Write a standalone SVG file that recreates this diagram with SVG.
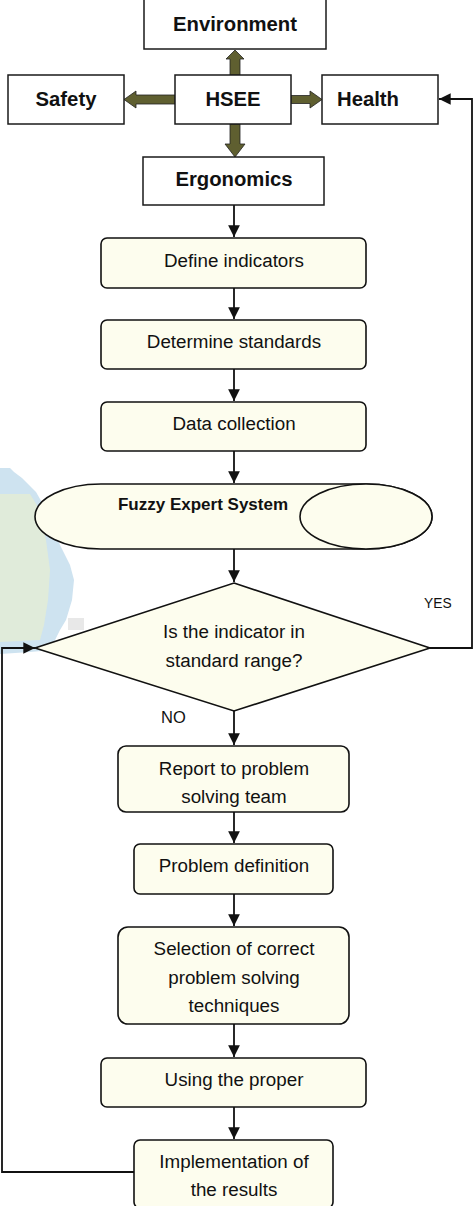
<svg xmlns="http://www.w3.org/2000/svg" width="474" height="1206" viewBox="0 0 474 1206">
<defs>
<style>
.box{fill:#ffffff;stroke:#1a1a1a;stroke-width:1.5}
.step{fill:#fdfdee;stroke:#111;stroke-width:1.6}
.big{font-family:"Liberation Sans",Arial,sans-serif;font-weight:bold;font-size:20.3px;fill:#111;text-anchor:middle}
.t{font-family:"Liberation Sans",Arial,sans-serif;font-size:18.8px;fill:#111;text-anchor:middle}
.lab{font-family:"Liberation Sans",Arial,sans-serif;font-size:15px;fill:#111}
.thick{fill:#5f5f30;stroke:#222;stroke-width:0.8}
.line{fill:none;stroke:#111;stroke-width:1.8}
</style>
<marker id="ah" viewBox="0 0 10 10" refX="10" refY="5" markerWidth="6.5" markerHeight="6.5" markerUnits="strokeWidth" orient="auto">
<path d="M0,0 L10,5 L0,10 Z" fill="#111"/>
</marker>
</defs>
<rect width="474" height="1206" fill="#ffffff"/>
<g id="artifact" opacity="0.9">
<path d="M0,468 L10,468 L14,472 L22,478 L30,486 L36,492 L44,506 L50,520 L60,545 L70,565 L74,580 L72,600 L66,620 L60,630 L55,640 L52,650 L30,652 L0,654 Z" fill="#c9e0ef"/>
<path d="M0,494 L30,494 L40,510 L46,540 L50,570 L48,600 L44,625 L40,640 L0,642 Z" fill="#dde9d6"/>
<rect x="68" y="618" width="16" height="12" fill="#e6e6e6"/>
</g>
<g id="connectors">
<path class="thick" d="M230,75 L230,59 L226,59 L235,50 L244,59 L240,59 L240,75 Z"/>
<path class="thick" d="M175,95 L136,95 L136,91 L124,99.5 L136,108 L136,104 L175,104 Z"/>
<path class="thick" d="M291,95.5 L310,95.5 L310,91 L322,99.5 L310,108 L310,103.5 L291,103.5 Z"/>
<path class="thick" d="M230,124 L230,144 L225,144 L235,157 L245,144 L240,144 L240,124 Z"/>
<line class="line" x1="234" y1="205" x2="234" y2="237" marker-end="url(#ah)"/>
<line class="line" x1="234" y1="288" x2="234" y2="319" marker-end="url(#ah)"/>
<line class="line" x1="234" y1="369" x2="234" y2="401" marker-end="url(#ah)"/>
<line class="line" x1="234" y1="451" x2="234" y2="483" marker-end="url(#ah)"/>
<line class="line" x1="234" y1="549" x2="234" y2="582" marker-end="url(#ah)"/>
<line class="line" x1="234" y1="711" x2="234" y2="745" marker-end="url(#ah)"/>
<line class="line" x1="234" y1="812" x2="234" y2="843" marker-end="url(#ah)"/>
<line class="line" x1="234" y1="894" x2="234" y2="926" marker-end="url(#ah)"/>
<line class="line" x1="234" y1="1024" x2="234" y2="1057" marker-end="url(#ah)"/>
<line class="line" x1="234" y1="1107" x2="234" y2="1139" marker-end="url(#ah)"/>
<polyline class="line" points="430,648 472,648 472,99 439,99" marker-end="url(#ah)"/>
<polyline class="line" points="135,1172 2,1172 2,648 35,648" marker-end="url(#ah)"/>
<text class="lab" x="424" y="608" style="font-size:13.8px">YES</text>
<text class="lab" x="161" y="723" style="font-size:16.5px">NO</text>
</g>
<g id="environment">
<rect class="box" x="144" y="-2" width="182" height="51"/>
<text class="big" x="235" y="31">Environment</text>
</g>
<g id="safety">
<rect class="box" x="8" y="75" width="116" height="49"/>
<text class="big" x="66" y="106">Safety</text>
</g>
<g id="hsee">
<rect class="box" x="175" y="75" width="116" height="49"/>
<text class="big" x="233" y="106">HSEE</text>
</g>
<g id="health">
<rect class="box" x="322" y="75" width="116" height="49"/>
<text class="big" x="368" y="106">Health</text>
</g>
<g id="ergonomics">
<rect class="box" x="143" y="157" width="181" height="48"/>
<text class="big" x="234" y="186">Ergonomics</text>
</g>
<g id="define">
<rect class="step" x="101" y="238" width="265" height="50" rx="6"/>
<text class="t" x="234" y="267">Define indicators</text>
</g>
<g id="determine">
<rect class="step" x="101" y="320" width="265" height="49" rx="6"/>
<text class="t" x="234" y="348">Determine standards</text>
</g>
<g id="data">
<rect class="step" x="101" y="402" width="265" height="49" rx="6"/>
<text class="t" x="234" y="430">Data collection</text>
</g>
<g id="fuzzy">
<path class="step" d="M101,484 L366,484 A66,32.5 0 0 1 366,549 L101,549 A66,32.5 0 0 1 101,484 Z"/>
<ellipse class="step" cx="366" cy="516.5" rx="66" ry="32.5"/>
<text class="big" x="203" y="510" style="font-size:17px">Fuzzy Expert System</text>
</g>
<g id="decision">
<polygon class="step" points="234,583 430,648 234,711 35,648"/>
<text class="t" x="234" y="638">Is the indicator in</text>
<text class="t" x="234" y="667">standard range?</text>
</g>
<g id="report">
<rect class="step" x="118" y="746" width="231" height="66" rx="8"/>
<text class="t" x="234" y="775">Report to problem</text>
<text class="t" x="234" y="803">solving team</text>
</g>
<g id="problem">
<rect class="step" x="134" y="844" width="199" height="50" rx="6"/>
<text class="t" x="234" y="872">Problem definition</text>
</g>
<g id="selection">
<rect class="step" x="118" y="927" width="231" height="97" rx="10"/>
<text class="t" x="234" y="955">Selection of correct</text>
<text class="t" x="234" y="984">problem solving</text>
<text class="t" x="234" y="1012">techniques</text>
</g>
<g id="using">
<rect class="step" x="101" y="1058" width="265" height="49" rx="6"/>
<text class="t" x="234" y="1086">Using the proper</text>
</g>
<g id="implementation">
<rect class="step" x="134" y="1140" width="199" height="68" rx="6"/>
<text class="t" x="234" y="1168">Implementation of</text>
<text class="t" x="234" y="1196">the results</text>
</g>
</svg>
